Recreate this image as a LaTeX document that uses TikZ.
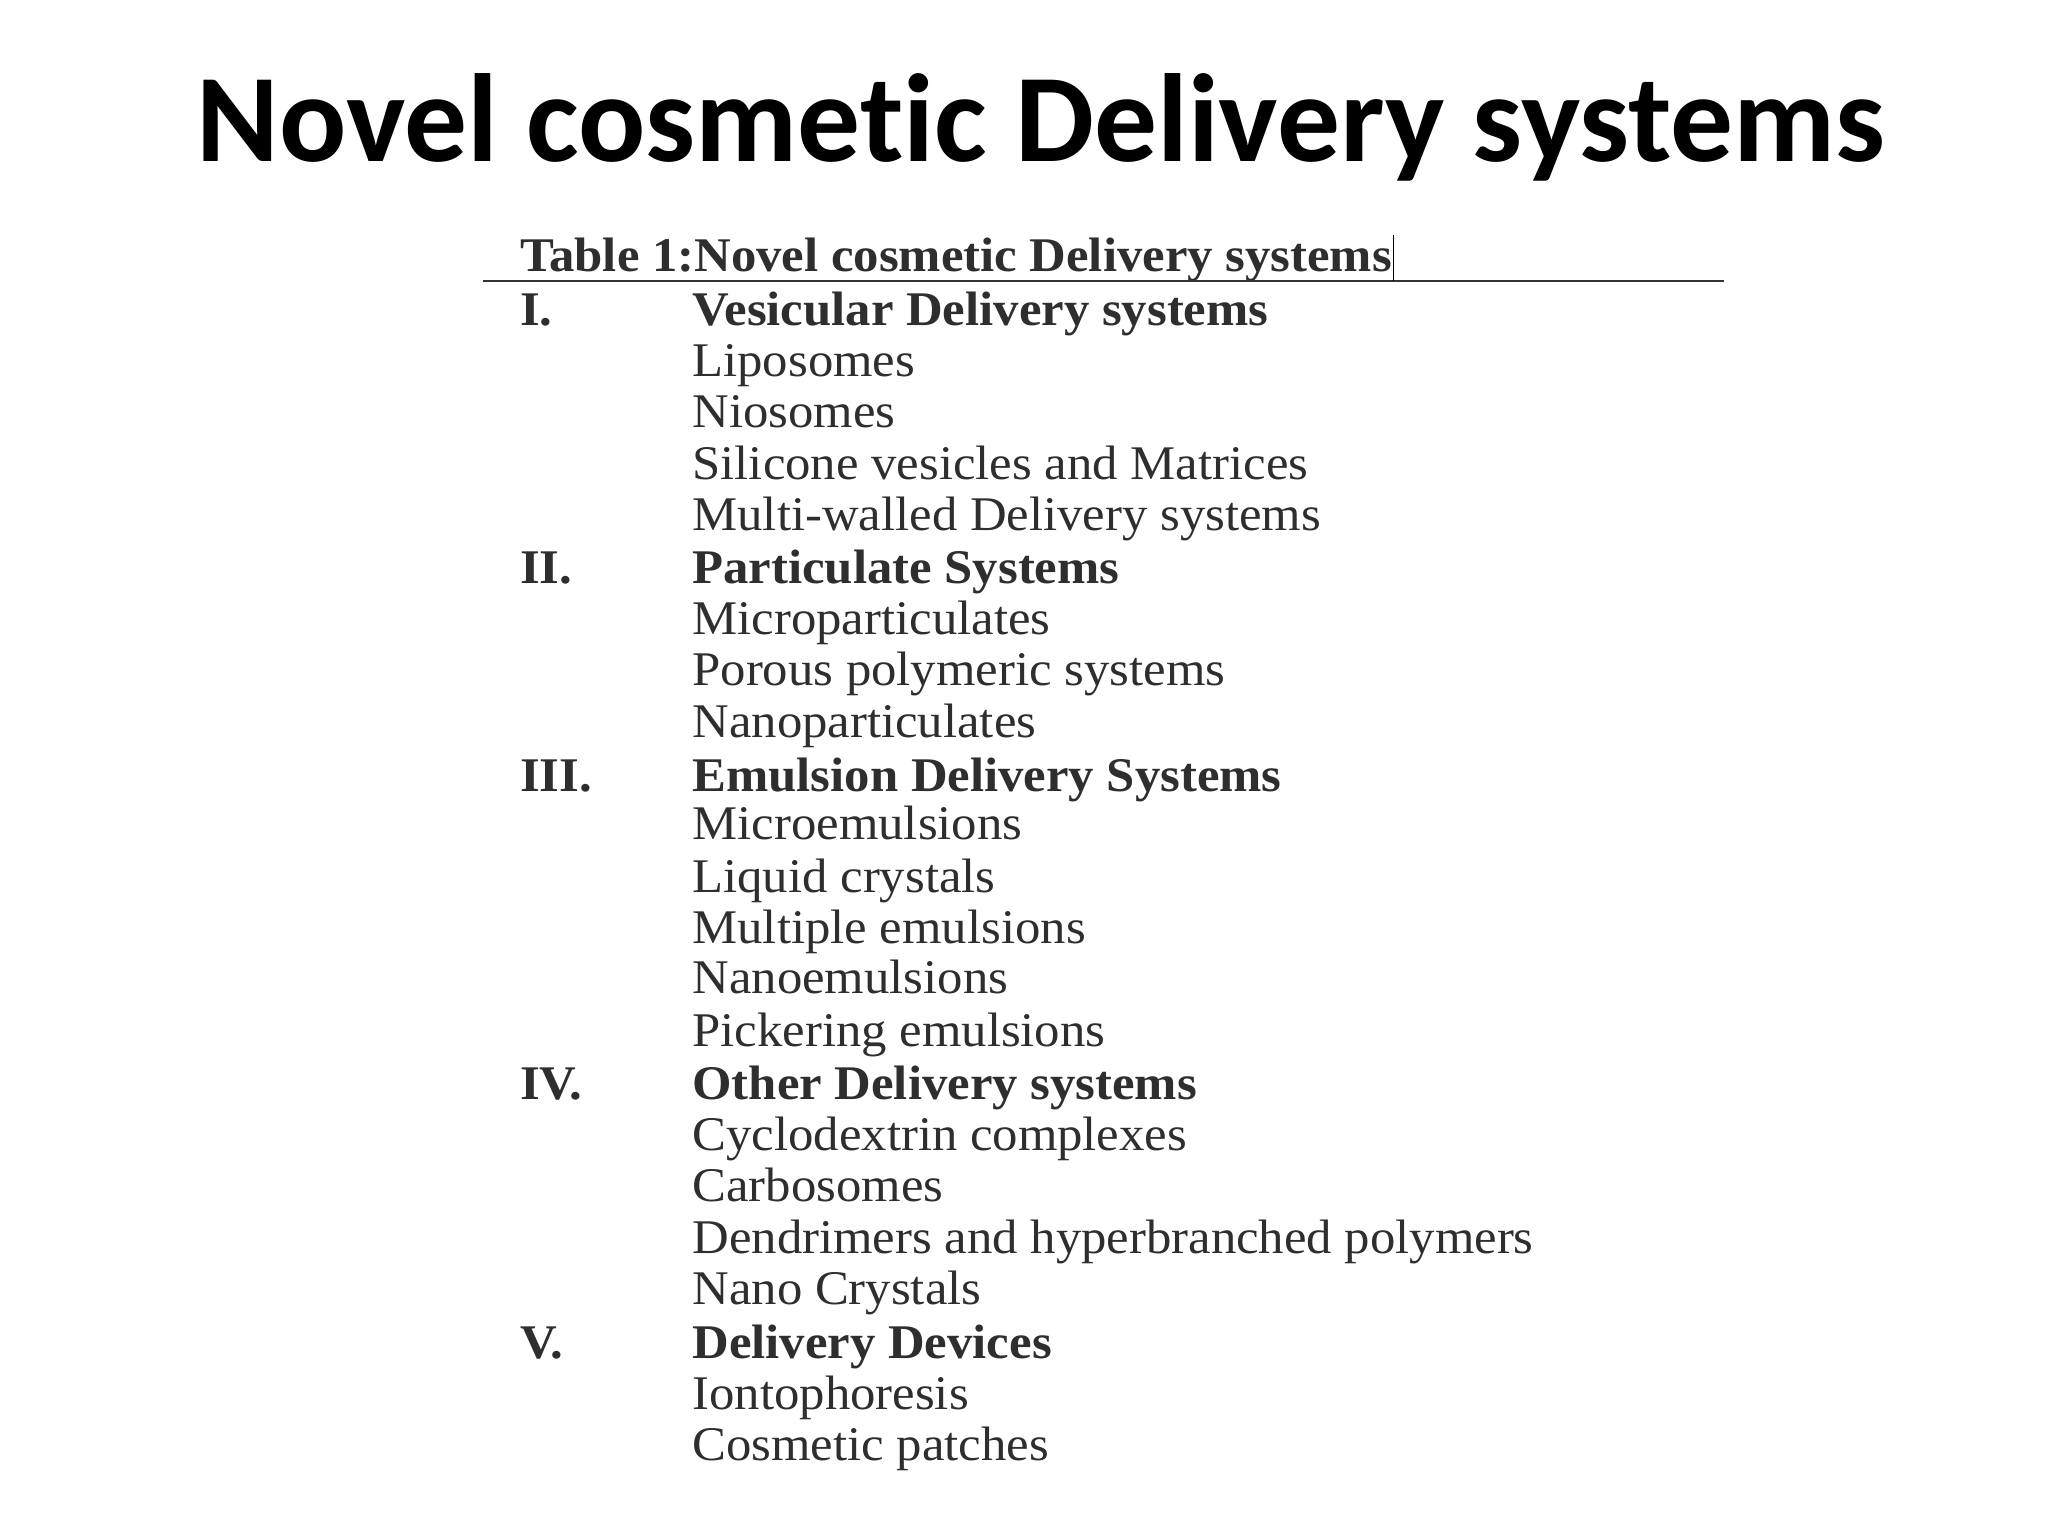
\documentclass[tikz,border=0pt]{standalone}
\usepackage{fontspec}
\setmainfont[FakeStretch=1.05]{Liberation Serif}
\newfontfamily\titlefont[Ligatures={NoCommon,NoContextual}]{Carlito}
\begin{document}
\begin{tikzpicture}[x=1pt,y=-1pt,
  cell/.style={anchor=base west,inner sep=0pt,text=black!82,font=\fontsize{37}{40}\selectfont},
  head/.style={cell,font=\fontsize{37}{40}\selectfont\bfseries}]
\useasboundingbox[fill=white] (0,0) rectangle (1568,1176);
\node[font=\titlefont\bfseries\fontsize{96}{100}\selectfont,anchor=base] (title) at (797,124) {Novel cosmetic Delivery systems};
\node[head] (cap) at (398,208) {Table 1:Novel cosmetic Delivery systems};
\coordinate (l1) at (370,215); \coordinate (l2) at (1320,215);
\draw[line width=1.5pt,black!80] (l1) -- (l2);
\coordinate (c1) at (1067,180); \coordinate (c2) at (1067,215);
\draw[line width=1.2pt] (c1) -- (c2);
\foreach \n/\t/\yy in {r1/I./249,r2/II./447,r3/III./606,r4/IV./842,r5/V./1040}
  \node[head] (\n) at (398,\yy) {\t};
\foreach \n/\t/\yy/\s in {
 a1/Vesicular Delivery systems/249/head,
 a2/Liposomes/288/cell,
 a3/Niosomes/327/cell,
 a4/Silicone vesicles and Matrices/367/cell,
 a5/Multi-walled Delivery systems/406/cell,
 b1/Particulate Systems/447/head,
 b2/Microparticulates/486/cell,
 b3/Porous polymeric systems/525/cell,
 b4/Nanoparticulates/565/cell,
 c1/Emulsion Delivery Systems/606/head,
 c2/Microemulsions/643/cell,
 c3/Liquid crystals/683/cell,
 c4/Multiple emulsions/722/cell,
 c5/Nanoemulsions/761/cell,
 c6/Pickering emulsions/801/cell,
 d1/Other Delivery systems/842/head,
 d2/Cyclodextrin complexes/881/cell,
 d3/Carbosomes/920/cell,
 d4/Dendrimers and hyperbranched polymers/960/cell,
 d5/Nano Crystals/999/cell,
 e1/Delivery Devices/1040/head,
 e2/Iontophoresis/1079/cell,
 e3/Cosmetic patches/1118/cell}
  \node[\s] (\n) at (530,\yy) {\t};
\end{tikzpicture}
\end{document}
